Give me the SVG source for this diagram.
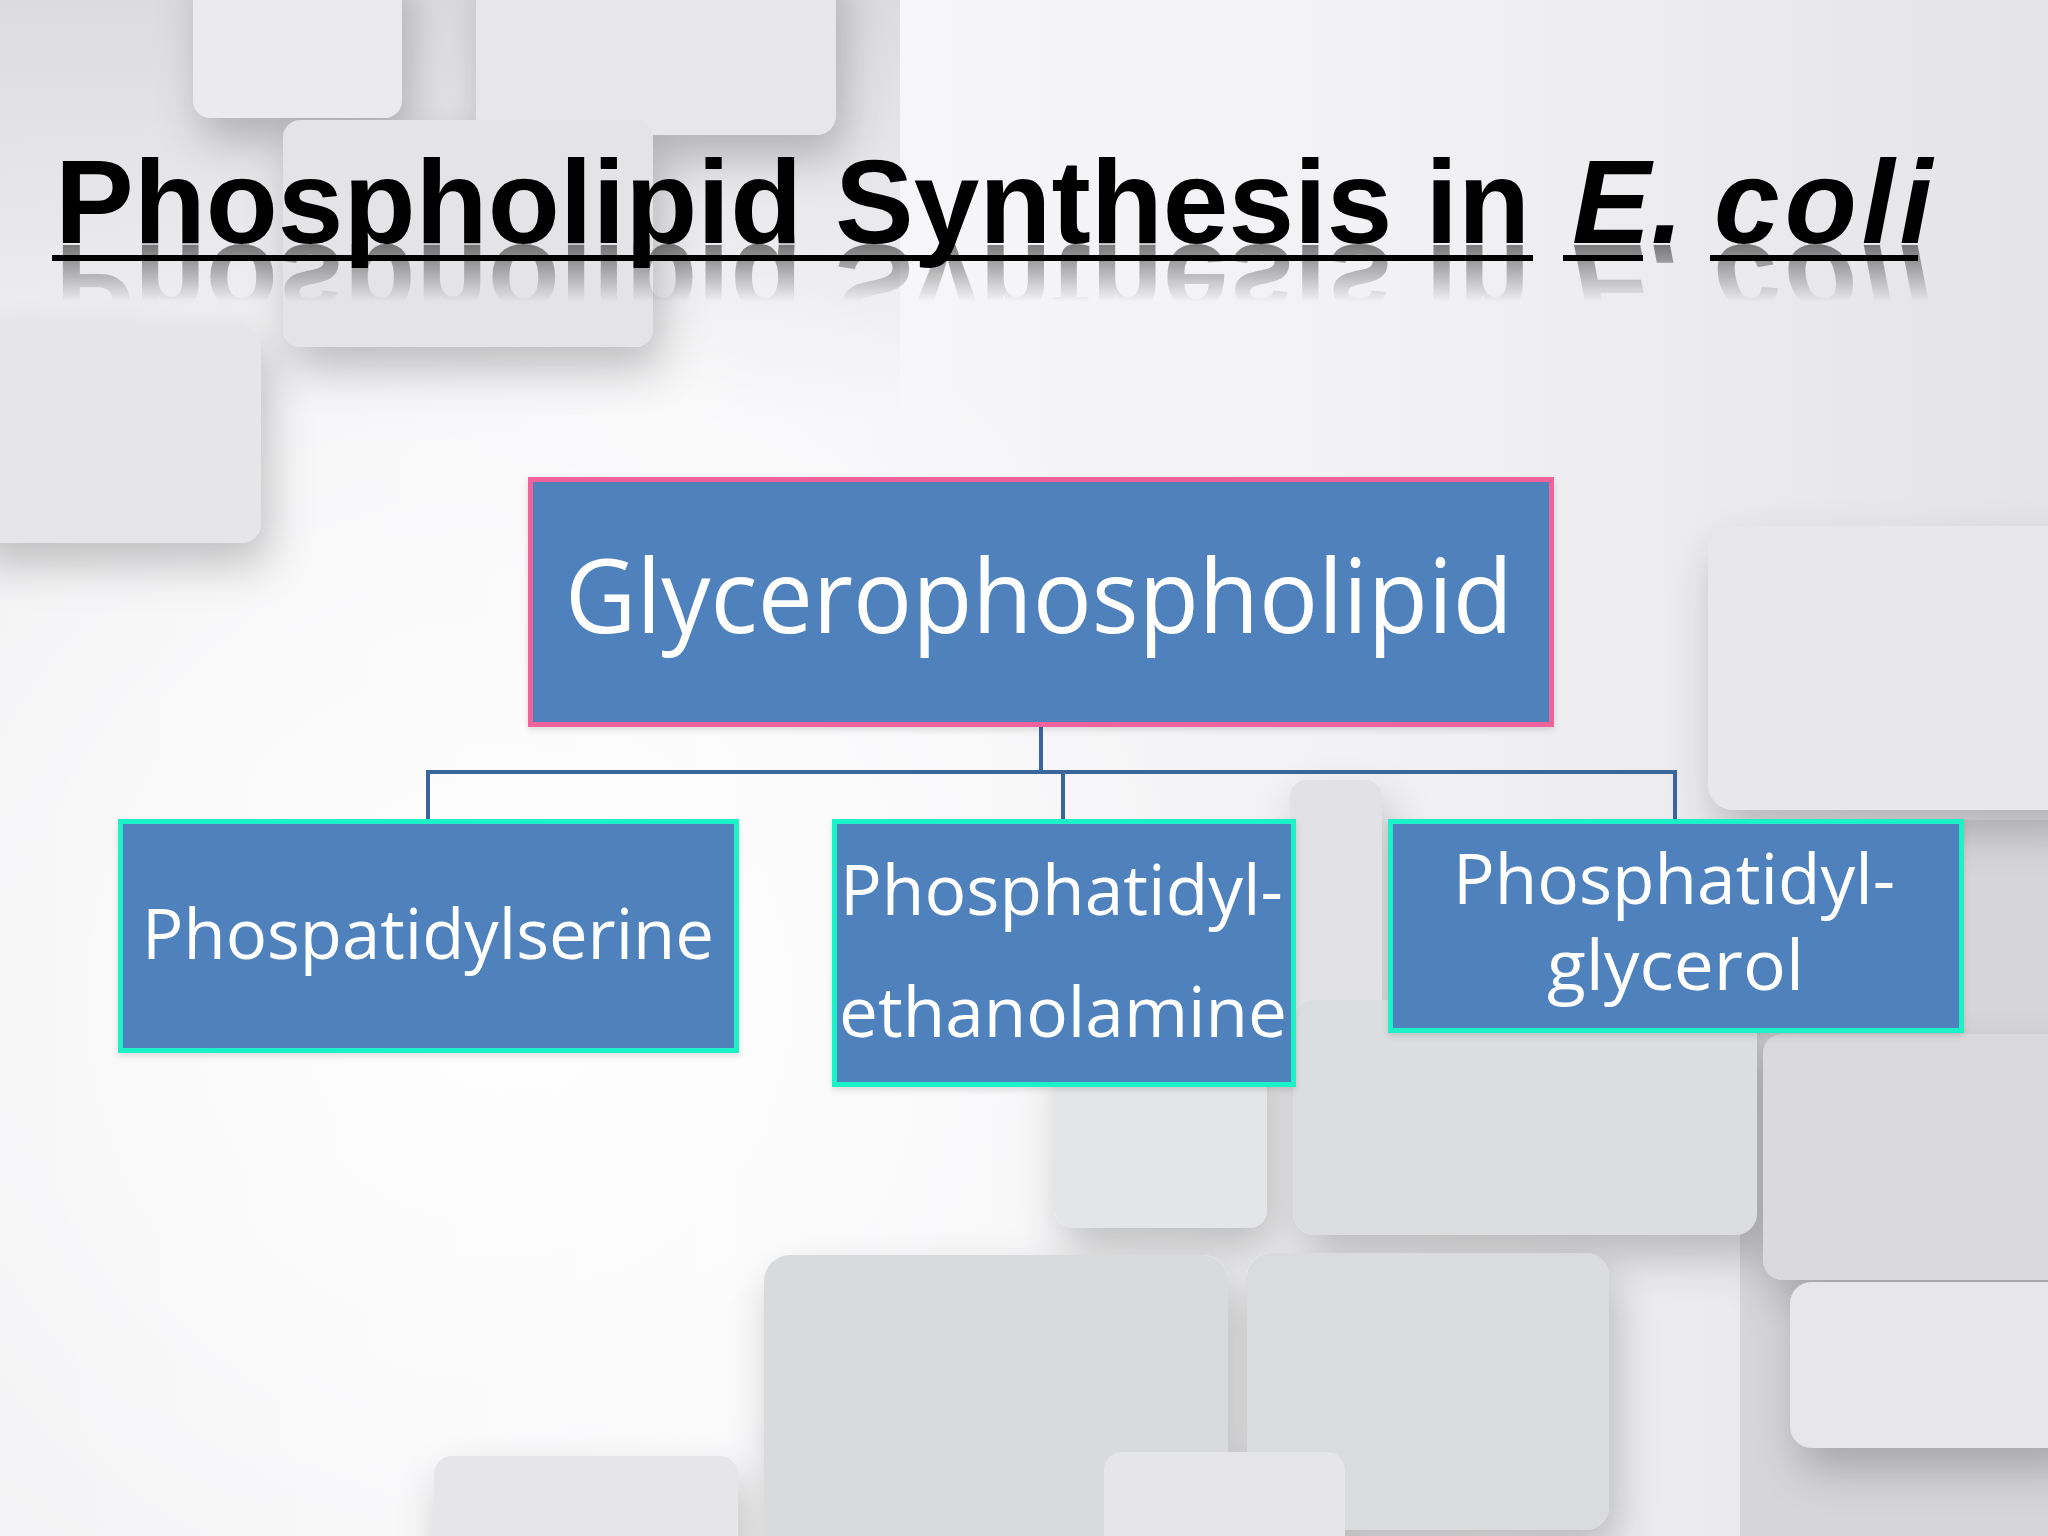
<svg xmlns="http://www.w3.org/2000/svg" xmlns:xlink="http://www.w3.org/1999/xlink" width="2048" height="1536" viewBox="0 0 2048 1536">
  <defs>
    <style>
      .tile { stroke: none; }
      .node rect { fill: #4F81BD; stroke-width: 5; }
      .parent rect { stroke: #F0649A; }
      .child rect { stroke: #1EF2C8; }
      .node text { fill: #FFFFFF; font-family: "Open Sans", "Noto Sans", "Liberation Sans", sans-serif; }
      .lbl { font-size: 70px; }
      .conn { fill: none; stroke: #3B6699; stroke-width: 4; }
      .title { font-family: "Liberation Sans", Arial, sans-serif; font-weight: bold; font-size: 118px; fill: #000000; }
      .ul { stroke: #000000; stroke-width: 6; }
    </style>
    <linearGradient id="bgGrad" x1="0" y1="0" x2="1" y2="0">
      <stop offset="0" stop-color="#f2f2f4"/>
      <stop offset="0.35" stop-color="#f8f8fa"/>
      <stop offset="0.7" stop-color="#f1f1f3"/>
      <stop offset="1" stop-color="#e4e4e7"/>
    </linearGradient>
    <radialGradient id="glow" cx="500" cy="1000" r="800" gradientUnits="userSpaceOnUse">
      <stop offset="0" stop-color="#ffffff" stop-opacity="0.95"/>
      <stop offset="1" stop-color="#ffffff" stop-opacity="0"/>
    </radialGradient>
    <linearGradient id="topShade" x1="0" y1="0" x2="0" y2="1">
      <stop offset="0" stop-color="#dcdcdf"/>
      <stop offset="1" stop-color="#dcdcdf" stop-opacity="0"/>
    </linearGradient>
    <filter id="shadow" x="-30%" y="-30%" width="160%" height="180%">
      <feDropShadow dx="8" dy="22" stdDeviation="22" flood-color="#000000" flood-opacity="0.22"/>
    </filter>
    <filter id="boxShadow" x="-5%" y="-5%" width="110%" height="115%">
      <feDropShadow dx="0" dy="3" stdDeviation="3" flood-color="#000000" flood-opacity="0.12"/>
    </filter>
    <linearGradient id="reflGrad" x1="0" y1="244" x2="0" y2="302" gradientUnits="userSpaceOnUse">
      <stop offset="0" stop-color="#ffffff" stop-opacity="0.5"/>
      <stop offset="1" stop-color="#ffffff" stop-opacity="0"/>
    </linearGradient>
    <mask id="reflMask" maskUnits="userSpaceOnUse" x="0" y="0" width="2048" height="400">
      <rect x="0" y="244" width="2048" height="70" fill="url(#reflGrad)"/>
    </mask>
  </defs>

  <!-- background scene -->
  <g id="background">
    <rect x="0" y="0" width="2048" height="1536" fill="url(#bgGrad)"/>
    <rect x="0" y="0" width="900" height="420" fill="url(#topShade)"/>
    <rect x="1740" y="820" width="308" height="716" fill="#d6d6d9"/>
    <rect x="0" y="0" width="2048" height="1536" fill="url(#glow)"/>

    <g filter="url(#shadow)">
      <rect class="tile" x="193" y="-40" width="209" height="158" rx="18" fill="#ebebed"/>
      <rect class="tile" x="476" y="-40" width="360" height="175" rx="20" fill="#e7e7e9"/>
      <rect class="tile" x="283" y="120" width="370" height="227" rx="18" fill="#e4e4e6"/>
      <rect class="tile" x="-30" y="324" width="291" height="219" rx="20" fill="#e6e6e8"/>
      <rect class="tile" x="1708" y="526" width="380" height="284" rx="26" fill="#e8e8ea"/>
      <rect class="tile" x="1290" y="780" width="92" height="300" rx="16" fill="#e2e2e4"/>
      <rect class="tile" x="1055" y="1040" width="212" height="188" rx="18" fill="#e4e5e7"/>
      <rect class="tile" x="1293" y="1000" width="464" height="235" rx="22" fill="#dcdddf"/>
      <rect class="tile" x="1763" y="1034" width="320" height="246" rx="20" fill="#dadadd"/>
      <rect class="tile" x="1790" y="1282" width="290" height="166" rx="22" fill="#e7e7e9"/>
      <rect class="tile" x="764" y="1255" width="464" height="320" rx="26" fill="#d9dadc"/>
      <rect class="tile" x="1247" y="1253" width="362" height="277" rx="24" fill="#dadbdd"/>
      <rect class="tile" x="434" y="1456" width="304" height="120" rx="18" fill="#e6e6e8"/>
      <rect class="tile" x="1104" y="1452" width="241" height="120" rx="18" fill="#e6e6e9"/>
    </g>
  </g>

  <!-- title with reflection -->
  <g id="title">
    <g mask="url(#reflMask)">
      <use xlink:href="#title-text" href="#title-text" transform="translate(0,488) scale(1,-1)"/>
    </g>
    <text id="title-text" class="title" x="55" y="243">Phospholipid Synthesis in <tspan x="1572" font-style="italic">E.</tspan> <tspan x="1714" font-style="italic" letter-spacing="5">coli</tspan></text>
    <line class="ul" x1="52" y1="258" x2="1533" y2="258"/>
    <line class="ul" x1="1563" y1="258" x2="1643" y2="258"/>
    <line class="ul" x1="1710" y1="258" x2="1918" y2="258"/>
  </g>

  <!-- connectors -->
  <g id="connectors">
    <path class="conn" d="M1041 727 V772"/>
    <path class="conn" d="M428 820 V772 H1675 V820"/>
    <path class="conn" d="M1063 772 V820"/>
  </g>

  <!-- nodes -->
  <g id="node-glycerophospholipid" class="node parent" filter="url(#boxShadow)">
    <rect x="530.5" y="479.5" width="1021" height="245"/>
    <text x="565" y="633" font-size="102" textLength="948" lengthAdjust="spacingAndGlyphs">Glycerophospholipid</text>
  </g>

  <g id="node-phosphatidylserine" class="node child" filter="url(#boxShadow)">
    <rect x="120.5" y="821.5" width="616" height="229"/>
    <text class="lbl" x="142" y="959" textLength="572" lengthAdjust="spacingAndGlyphs">Phospatidylserine</text>
  </g>

  <g id="node-phosphatidylethanolamine" class="node child" filter="url(#boxShadow)">
    <rect x="834.5" y="821.5" width="459" height="263"/>
    <text class="lbl" x="840" y="915" textLength="443" lengthAdjust="spacingAndGlyphs">Phosphatidyl-</text>
    <text class="lbl" x="839" y="1037" textLength="448" lengthAdjust="spacingAndGlyphs">ethanolamine</text>
  </g>

  <g id="node-phosphatidylglycerol" class="node child" filter="url(#boxShadow)">
    <rect x="1390.5" y="821.5" width="571" height="209"/>
    <text class="lbl" x="1453" y="904" textLength="442" lengthAdjust="spacingAndGlyphs">Phosphatidyl-</text>
    <text class="lbl" x="1547" y="990" textLength="257" lengthAdjust="spacingAndGlyphs">glycerol</text>
  </g>
</svg>
